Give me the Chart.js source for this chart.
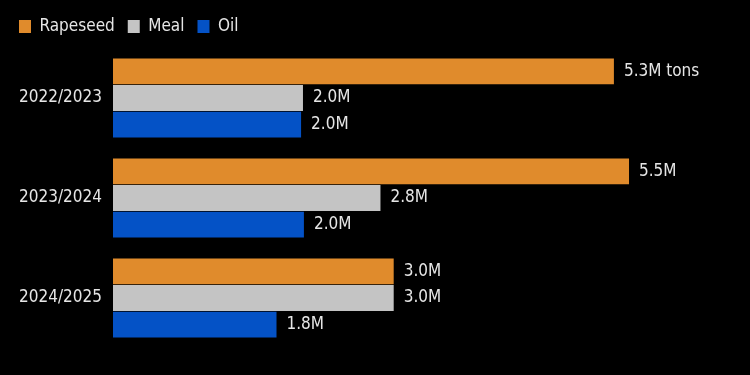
<!DOCTYPE html>
<html>
<head>
<meta charset="utf-8">
<script src="https://cdn.jsdelivr.net/npm/chart.js@4"></script>
<style>
  html, body { margin: 0; padding: 0; background: #000; }
  #wrap { width: 750px; height: 375px; position: relative; }
</style>
</head>
<body>
<div id="wrap"><canvas id="myChart"></canvas></div>
<script>
// Data
const seasons = ['2022/2023', '2023/2024', '2024/2025'];
const rapeseed = [5.3, 5.46, 2.97];
const meal = [2.01, 2.83, 2.97];
const oil = [1.99, 2.02, 1.73];
const rapeseedLabels = ['5.3M tons', '5.5M', '3.0M'];
const mealLabels = ['2.0M', '2.8M', '3.0M'];
const oilLabels = ['2.0M', '2.0M', '1.8M'];

const textColor = '#e6e6e6';
const fontFamily = "'DejaVu Sans Condensed', 'DejaVu Sans', sans-serif";

// value labels at the end of each bar
const barLabels = {
    id: 'barLabels',
    afterDatasetsDraw(chart) {
        const ctx = chart.ctx;
        ctx.save();
        ctx.font = '17px ' + fontFamily;
        ctx.fillStyle = textColor;
        ctx.textAlign = 'left';
        ctx.textBaseline = 'middle';
        chart.data.datasets.forEach((ds, i) => {
            chart.getDatasetMeta(i).data.forEach((bar, j) => {
                ctx.fillText(ds.valueLabels[j], bar.x + 10, bar.y);
            });
        });
        ctx.restore();
    }
};

// a bit more room under the legend
const legendGap = {
    id: 'legendGap',
    beforeInit(chart) {
        const fit = chart.legend.fit;
        chart.legend.fit = function () {
            fit.bind(chart.legend)();
            this.height += 3;
        };
    }
};

const ctx = document.getElementById('myChart').getContext('2d');
const myChart = new Chart(ctx, {
    type: 'bar',
    data: {
        labels: seasons,
        datasets: [{
            label: 'Rapeseed',
            data: rapeseed,
            valueLabels: rapeseedLabels,
            backgroundColor: '#E08B2C'
        }, {
            label: 'Meal',
            data: meal,
            valueLabels: mealLabels,
            backgroundColor: '#C4C4C4'
        }, {
            label: 'Oil',
            data: oil,
            valueLabels: oilLabels,
            backgroundColor: '#0452C6'
        }]
    },
    options: {
        indexAxis: 'y',
        responsive: true,
        maintainAspectRatio: false,
        animation: false,
        datasets: {
            bar: {
                categoryPercentage: 0.8,
                barPercentage: 0.97
            }
        },
        layout: {
            padding: { left: 6, right: 0, top: 5, bottom: 27 }
        },
        scales: {
            x: {
                display: false,
                min: 0,
                max: 6.74
            },
            y: {
                grid: { display: false, drawTicks: false },
                border: { display: false },
                ticks: {
                    color: textColor,
                    padding: 11,
                    font: { family: fontFamily, size: 17 }
                },
                afterFit(scale) {
                    scale.width = 107;
                }
            }
        },
        plugins: {
            legend: {
                position: 'top',
                align: 'start',
                labels: {
                    color: textColor,
                    boxWidth: 12,
                    boxHeight: 13,
                    padding: 13,
                    font: { family: fontFamily, size: 17 }
                }
            },
            tooltip: { enabled: false }
        }
    },
    plugins: [barLabels, legendGap]
});
</script>
</body>
</html>
